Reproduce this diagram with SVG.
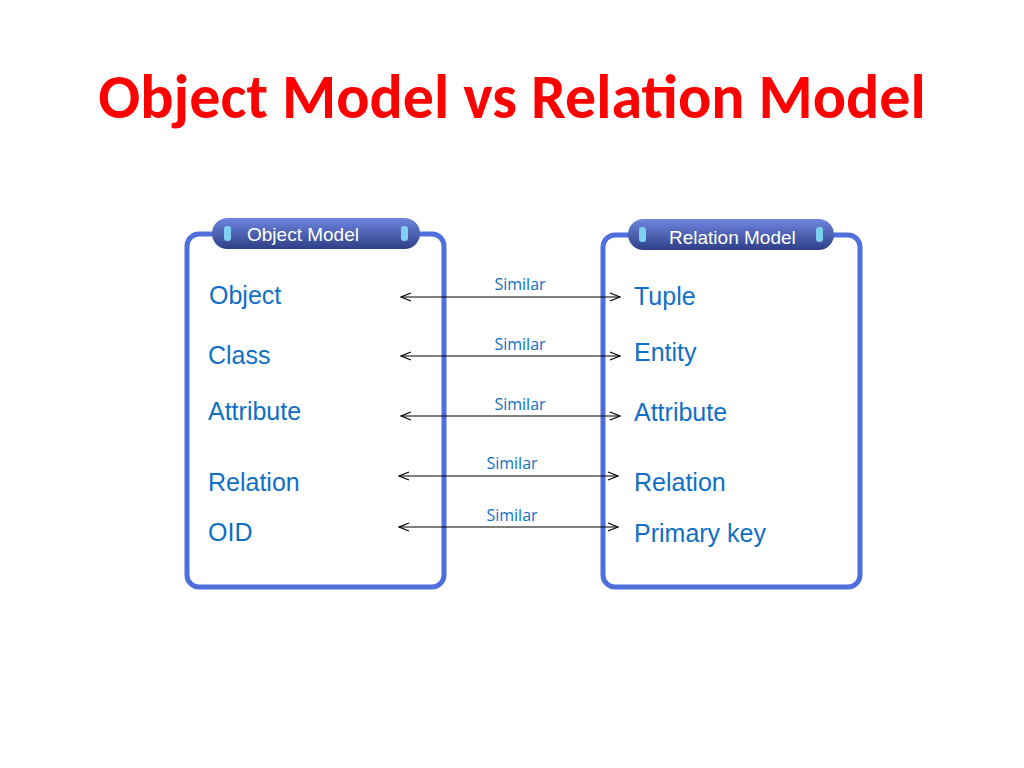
<svg xmlns="http://www.w3.org/2000/svg" width="1024" height="768" viewBox="0 0 1024 768">
<defs>
<linearGradient id="pill" x1="0" y1="0" x2="0" y2="1"><stop offset="0" stop-color="#6f86e0"/><stop offset="1" stop-color="#2e3f86"/></linearGradient>
<marker id="ah" markerWidth="12" markerHeight="10" refX="11" refY="5" orient="auto-start-reverse" markerUnits="userSpaceOnUse"><path d="M1,1 L11,5 L1,9" fill="none" stroke="#000" stroke-width="1.2"/></marker>
</defs>
<style>
.box{fill:#fff;stroke:#4f6fde;stroke-width:5}
.pt{font-family:"Liberation Sans",Arial,sans-serif;font-size:19px;fill:#fff}
.it{font-family:"Liberation Sans",Arial,sans-serif;font-size:25px;fill:#0f6fc6}
.sim{font-family:"Open Sans","DejaVu Sans",sans-serif;font-size:16px;fill:#0f6fc6}
.c{stroke:#000;stroke-width:1.2;marker-start:url(#ah);marker-end:url(#ah)}
.tab{fill:#7fd0f0}
</style>
<rect width="1024" height="768" fill="#fff"/>
<text x="512" y="118" text-anchor="middle" font-family="Calibri,Carlito,'Liberation Sans',sans-serif" font-weight="bold" font-size="62" fill="#ff0000">Object Model vs Relation Model</text>
<g id="object-model">
<rect class="box" x="187" y="234" width="257" height="353" rx="12"/>
<rect x="212" y="218" width="208" height="31" rx="15.5" fill="url(#pill)"/>
<rect class="tab" x="224" y="226" width="7" height="15" rx="3"/>
<rect class="tab" x="401" y="226" width="7" height="15" rx="3"/>
<text class="pt" x="247" y="241">Object Model</text>
<text class="it" x="209" y="304">Object</text>
<text class="it" x="208" y="364">Class</text>
<text class="it" x="208" y="420">Attribute</text>
<text class="it" x="208" y="491">Relation</text>
<text class="it" x="208" y="541">OID</text>
</g>
<g id="relation-model">
<rect class="box" x="603" y="235" width="257" height="352" rx="12"/>
<rect x="628" y="219" width="206" height="31" rx="15.5" fill="url(#pill)"/>
<rect class="tab" x="639" y="227" width="7" height="15" rx="3"/>
<rect class="tab" x="816" y="227" width="7" height="15" rx="3"/>
<text class="pt" x="669" y="244">Relation Model</text>
<text class="it" x="634" y="305">Tuple</text>
<text class="it" x="634" y="361">Entity</text>
<text class="it" x="634" y="421">Attribute</text>
<text class="it" x="634" y="491">Relation</text>
<text class="it" x="634" y="542">Primary key</text>
</g>
<g id="connectors">
<line class="c" x1="401" y1="297" x2="620" y2="297"/>
<line class="c" x1="401" y1="356" x2="620" y2="356"/>
<line class="c" x1="401" y1="416" x2="620" y2="416"/>
<line class="c" x1="399" y1="476" x2="618" y2="476"/>
<line class="c" x1="399" y1="527" x2="618" y2="527"/>
<text class="sim" x="520" y="290" text-anchor="middle">Similar</text>
<text class="sim" x="520" y="350" text-anchor="middle">Similar</text>
<text class="sim" x="520" y="410" text-anchor="middle">Similar</text>
<text class="sim" x="512" y="469" text-anchor="middle">Similar</text>
<text class="sim" x="512" y="521" text-anchor="middle">Similar</text>
</g>
</svg>
